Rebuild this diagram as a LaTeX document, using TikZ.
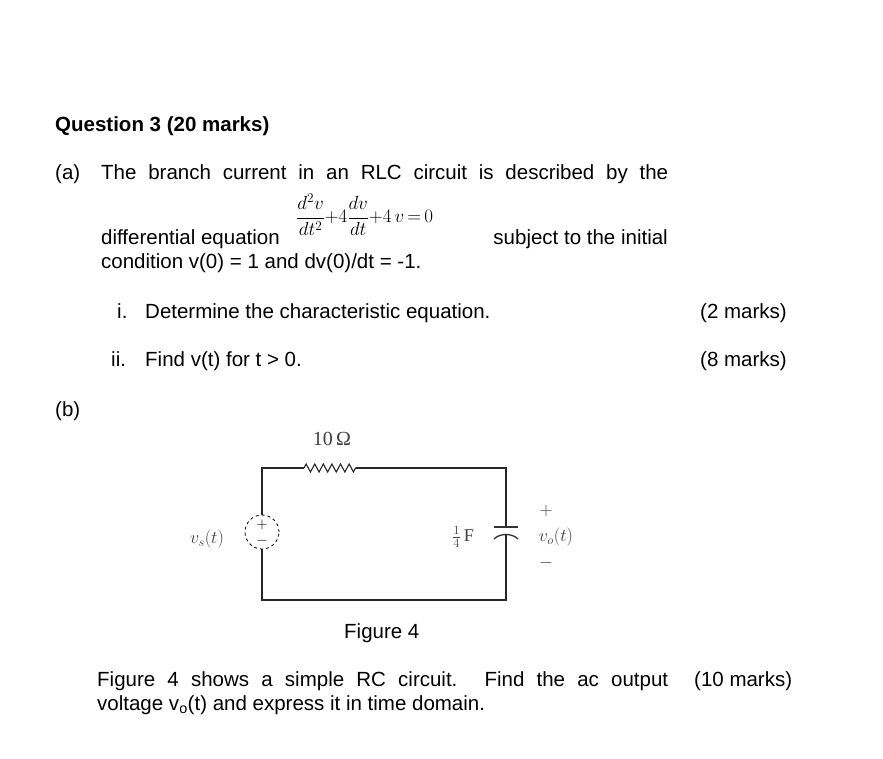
\RequirePackage{fix-cm}
\documentclass[tikz,border=0pt]{standalone}
\usepackage{fontspec}
\setmainfont{Liberation Sans}
\newfontfamily\tms{Liberation Serif}
\usetikzlibrary{decorations.pathmorphing}
\begin{document}
\begin{tikzpicture}[x=1pt,y=-1pt,
  txt/.style={anchor=base west,inner sep=0pt,font=\fontsize{20.5}{24}\selectfont},
  lab/.style={inner sep=0pt,font=\fontsize{18}{20}\selectfont,text=black!75},
  wire/.style={line width=1.1pt,black!85}]
\useasboundingbox[fill=white] (0,0) rectangle (883,759);
\node[txt,font=\fontsize{20.5}{24}\selectfont\bfseries] (q) at (55,132) {Question 3 (20 marks)};
\node[txt] (a) at (55,180) {(a)};
\node[txt] (l1) at (101,180) {\makebox[567pt][s]{The branch current in an RLC circuit is described by the}};
\node[txt] (l2) at (101,245) {differential equation};
\node[txt,anchor=base east] (l2b) at (668,245) {subject to the initial};
\node[inner sep=0pt,anchor=west,font=\fontsize{19}{22}\selectfont] (eq) at (296,215) {$\displaystyle \frac{d^2v}{dt^2}\mathord{+}4\frac{dv}{dt}\mathord{+}4\,v\,{=}\,0$};
\node[txt] (l3) at (101,269) {condition v(0) = 1 and dv(0)/dt = -1.};
\node[txt] (i) at (117,318) {i.};
\node[txt] (it) at (145,318) {Determine the characteristic equation.};
\node[txt] (im) at (700,318) {(2 marks)};
\node[txt] (ii) at (111,366) {ii.};
\node[txt] (iit) at (145,366) {Find v(t) for t > 0.};
\node[txt] (iim) at (700,366) {(8 marks)};
\node[txt] (b) at (55,416) {(b)};
% circuit
\coordinate (tl) at (262,468); \coordinate (tr) at (506,468);
\coordinate (bl) at (262,600); \coordinate (br) at (506,600);
\coordinate (r1) at (304,468); \coordinate (r2) at (356,468);
\node[circle,draw,dashed,line width=0.8pt,minimum size=34pt,inner sep=0pt] (src) at (262,532) {};
\node[inner sep=0pt,font=\fontsize{15}{15}\selectfont] (sp) at (262,525) {$+$};
\node[inner sep=0pt,font=\fontsize{15}{15}\selectfont] (sm) at (262,541) {$-$};
\coordinate (c1) at (506,527); \coordinate (c2) at (506,535);
\draw[wire] (src.north) -- (tl) -- (r1);
\draw[wire,decorate,decoration={zigzag,segment length=8.6pt,amplitude=4pt}] (r1) -- (r2);
\draw[wire] (r2) -- (tr) -- (c1);
\draw[wire] (c2) -- (br) -- (bl) -- (src.south);
\draw[line width=1.3pt,black!80] (494,527) -- (518,527);
\draw[line width=1.3pt,black!80] (494,539) .. controls (500,533) and (512,533) .. (518,539);
\node[lab,font=\tms\fontsize{20}{20}\selectfont] (rl) at (332,439) {10\,Ω};
\node[lab] (vs) at (207,539) {$v_s(t)$};
\node[lab] (cl) at (463,537) {$\frac14$\,\tms F};
\node[lab] (p) at (546,511) {$+$};
\node[lab] (vo) at (556,537) {$v_o(t)$};
\node[lab] (m) at (546,563) {$-$};
\node[txt] (fig) at (344,638) {Figure 4};
\node[txt] (f1) at (97,686) {\makebox[571pt][s]{Figure 4 shows a simple RC circuit. Find the ac output}};
\node[txt] (f2) at (97,710) {voltage v\textsubscript{o}(t) and express it in time domain.};
\node[txt] (fm) at (694,686) {(10 marks)};
\end{tikzpicture}
\end{document}
